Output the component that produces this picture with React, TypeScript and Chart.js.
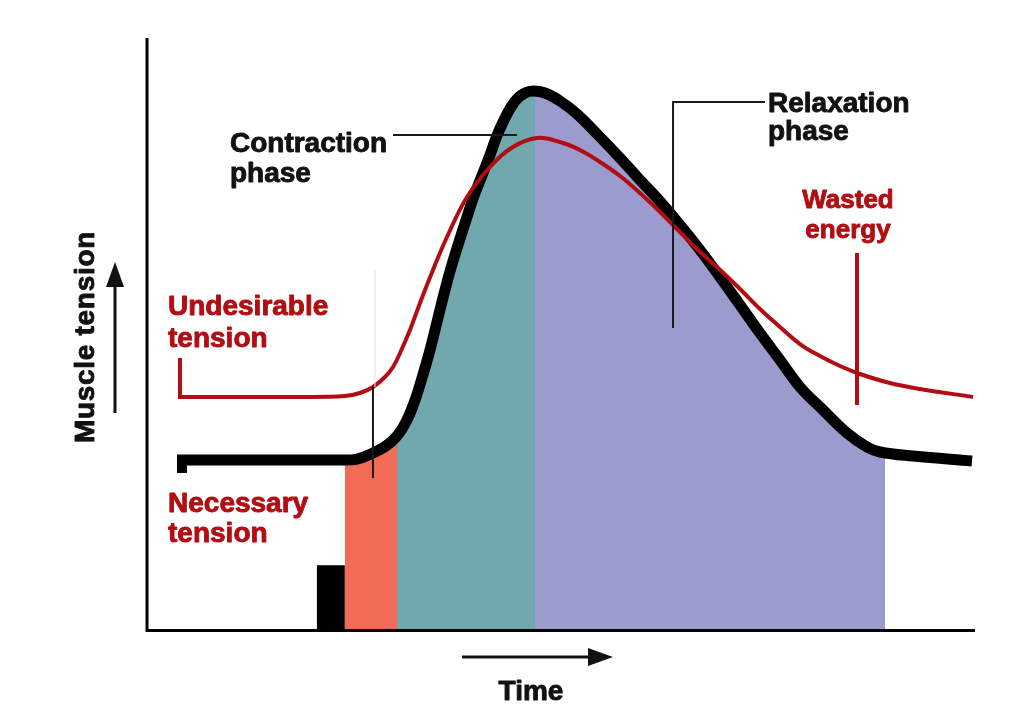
import React, { useEffect, useRef } from "react";
import { Chart, registerables } from "chart.js";

Chart.register(...registerables);

// ---- data (time and tension in arbitrary 0-100 units) ----
const blackTime = [
  3.62, 23.31, 25.36, 27.29, 28.86, 30.19, 31.28, 32.25, 33.21, 34.18, 35.14, 35.99, 36.71,
  37.56, 38.53, 39.49, 40.58, 41.43, 42.15, 43.0, 43.96, 44.81, 45.65, 46.62, 48.07, 49.88,
  51.93, 54.71, 57.13, 59.54, 61.59, 64.37, 66.79, 69.2, 71.62, 74.03, 76.45, 78.86, 81.64,
  84.54, 86.96, 88.53, 92.51, 99.64,
];
const blackTension = [
  28.6, 28.6, 28.76, 29.78, 30.96, 32.66, 35.03, 38.24, 42.47, 47.21, 52.62, 57.36, 61.08,
  64.97, 69.2, 73.27, 77.16, 80.2, 83.08, 85.79, 88.32, 89.85, 90.69, 91.03, 90.69, 89.34,
  87.14, 83.25, 79.7, 75.97, 72.93, 68.36, 64.13, 59.56, 54.82, 50.08, 45.52, 40.95, 37.06,
  33.16, 30.8, 29.95, 29.27, 28.43,
];
const redTime = [
  3.74, 18.48, 23.91, 25.72, 27.29, 28.74, 29.71, 30.56, 31.76, 32.97, 34.54, 36.23, 38.65,
  41.43, 44.2, 47.1, 49.88, 52.29, 54.71, 57.13, 59.54, 61.96, 64.37, 66.79, 68.84, 71.62,
  74.03, 76.45, 78.86, 81.28, 83.7, 86.11, 89.73, 93.36, 99.76,
];
const redTension = [
  39.26, 39.26, 39.42, 39.93, 40.95, 42.64, 44.33, 46.7, 50.59, 55.16, 60.74, 66.33, 73.1,
  78.17, 81.56, 83.08, 82.4, 81.05, 79.02, 76.65, 73.77, 70.56, 67.17, 63.79, 61.25, 57.53,
  54.15, 51.1, 48.22, 46.19, 44.5, 43.15, 41.62, 40.61, 39.26,
];
const phaseBounds = [23.9, 30.2, 46.9, 89.1];
const phaseColors = ["#F26B57", "#70A8AD", "#9B9BCD"];
const stimulusTime = [20.5, 23.9];
const stimulusTension = [10.8, 10.8];

const FONT = "'Liberation Sans', Arial, Helvetica, sans-serif";
const RED = "#B10D12";

const toPoints = (xs: number[], ys: number[]) => xs.map((x, i) => ({ x, y: ys[i] }));

const boldText = (ctx: CanvasRenderingContext2D, t: string, x: number, y: number) => {
  ctx.strokeStyle = ctx.fillStyle as string;
  ctx.lineWidth = 0.9;
  ctx.lineJoin = "round";
  ctx.strokeText(t, x, y);
  ctx.fillText(t, x, y);
};

const annotationPlugin = {
  id: "diagramAnnotations",
  afterDatasetsDraw(chart: any) {
    const { ctx, chartArea: ca, scales } = chart;
    const px = (v: number) => scales.x.getPixelForValue(v);
    const py = (v: number) => scales.y.getPixelForValue(v);
    ctx.save();

    // axes
    ctx.strokeStyle = "#000";
    ctx.lineWidth = 3;
    ctx.lineCap = "butt";
    ctx.beginPath();
    ctx.moveTo(ca.left, ca.top);
    ctx.lineTo(ca.left, ca.bottom + 1.5);
    ctx.lineTo(ca.right, ca.bottom + 1.5);
    ctx.stroke();

    // start tick of black curve
    ctx.fillStyle = "#000";
    ctx.fillRect(px(3.62), py(29.44), px(4.83) - px(3.62), py(26.4) - py(29.44));

    // red start tick (undesirable tension)
    ctx.strokeStyle = RED;
    ctx.lineWidth = 4;
    ctx.beginPath();
    ctx.moveTo(px(3.74) + 2, py(45.85));
    ctx.lineTo(px(3.74) + 2, py(39.26) + 2);
    ctx.stroke();

    // wasted energy leader
    ctx.beginPath();
    ctx.moveTo(px(85.75), py(63.62));
    ctx.lineTo(px(85.75), py(37.9));
    ctx.stroke();

    // contraction leader
    ctx.strokeStyle = "#1a1a1a";
    ctx.lineWidth = 2;
    ctx.beginPath();
    ctx.moveTo(px(29.71), py(83.59));
    ctx.lineTo(px(44.69), py(83.59));
    ctx.stroke();

    // relaxation leader
    ctx.beginPath();
    ctx.moveTo(px(74.64), py(89.17));
    ctx.lineTo(px(63.53), py(89.17));
    ctx.lineTo(px(63.53), py(50.93));
    ctx.stroke();

    // necessary tension leader
    ctx.beginPath();
    ctx.moveTo(px(27.29), py(40.95));
    ctx.lineTo(px(27.29), py(25.55));
    ctx.stroke();
    ctx.strokeStyle = "#e2e2e2";
    ctx.lineWidth = 1;
    ctx.beginPath();
    ctx.moveTo(px(27.29) + 2, py(60.74));
    ctx.lineTo(px(27.29) + 2, py(40.95));
    ctx.stroke();

    // texts
    ctx.font = `bold 28px ${FONT}`;
    (ctx as any).letterSpacing = "0px";
    ctx.textBaseline = "alphabetic";
    ctx.textAlign = "left";
    ctx.fillStyle = "#111";
    boldText(ctx, "Contraction", px(10.02), py(80.71));
    boldText(ctx, "phase", px(10.02), py(75.63));
    boldText(ctx, "Relaxation", px(75.0), py(87.48));
    boldText(ctx, "phase", px(75.0), py(82.74));
    ctx.fillStyle = RED;
    boldText(ctx, "Undesirable", px(2.54), py(53.13));
    boldText(ctx, "tension", px(2.54), py(47.72));
    boldText(ctx, "Necessary", px(2.54), py(19.8));
    boldText(ctx, "tension", px(2.54), py(14.72));
    ctx.textAlign = "center";
    ctx.font = `bold 26px ${FONT}`;
    boldText(ctx, "Wasted", px(84.66), py(71.24));
    boldText(ctx, "energy", px(84.66), py(66.16));

    // axis titles
    ctx.font = `bold 28px ${FONT}`;
    ctx.fillStyle = "#111";
    boldText(ctx, "Time", 531, 700);
    ctx.save();
    (ctx as any).letterSpacing = "0.7px";
    ctx.translate(94, 337);
    ctx.rotate(-Math.PI / 2);
    boldText(ctx, "Muscle tension", 0, 0);
    ctx.restore();

    // arrows
    ctx.strokeStyle = "#111";
    ctx.fillStyle = "#111";
    ctx.lineWidth = 3;
    ctx.beginPath();
    ctx.moveTo(462, 657);
    ctx.lineTo(592, 657);
    ctx.stroke();
    ctx.beginPath();
    ctx.moveTo(613, 657);
    ctx.lineTo(588, 648);
    ctx.lineTo(588, 666);
    ctx.closePath();
    ctx.fill();

    ctx.beginPath();
    ctx.moveTo(115, 413);
    ctx.lineTo(115, 282);
    ctx.stroke();
    ctx.beginPath();
    ctx.moveTo(115, 262);
    ctx.lineTo(106, 287);
    ctx.lineTo(124, 287);
    ctx.closePath();
    ctx.fill();

    ctx.restore();
  },
};

export default function App() {
  const canvasRef = useRef<HTMLCanvasElement | null>(null);

  useEffect(() => {
    const canvas = canvasRef.current;
    if (!canvas) return;

    const phaseFill = (context: any) => {
      const chart = context.chart;
      const ca = chart.chartArea;
      if (!ca) return "rgba(0,0,0,0)";
      const xs = chart.scales.x;
      const g = chart.ctx.createLinearGradient(ca.left, 0, ca.right, 0);
      const f = (v: number) =>
        Math.min(1, Math.max(0, (xs.getPixelForValue(v) - ca.left) / (ca.right - ca.left)));
      const clear = "rgba(255,255,255,0)";
      g.addColorStop(0, clear);
      g.addColorStop(f(phaseBounds[0]), clear);
      for (let i = 0; i < phaseColors.length; i++) {
        g.addColorStop(f(phaseBounds[i]), phaseColors[i]);
        g.addColorStop(f(phaseBounds[i + 1]), phaseColors[i]);
      }
      g.addColorStop(f(phaseBounds[phaseBounds.length - 1]), clear);
      g.addColorStop(1, clear);
      return g;
    };

    const chart = new Chart(canvas, {
      type: "line",
      data: {
        datasets: [
          {
            label: "Undesirable tension",
            data: toPoints(redTime, redTension),
            borderColor: RED,
            borderWidth: 4,
            pointRadius: 0,
            fill: false,
            tension: 0.4,
          },
          {
            label: "Necessary tension",
            data: toPoints(blackTime, blackTension),
            borderColor: "#000",
            borderWidth: 11,
            pointRadius: 0,
            fill: "origin",
            backgroundColor: phaseFill,
            tension: 0.4,
          },
          {
            label: "Stimulus",
            data: toPoints(stimulusTime, stimulusTension),
            borderColor: "#000",
            borderWidth: 0,
            pointRadius: 0,
            fill: "origin",
            backgroundColor: "#000",
            tension: 0,
          },
        ],
      },
      options: {
        animation: false,
        responsive: false,
        devicePixelRatio: 1,
        layout: { padding: { left: 147, right: 49, top: 38, bottom: 94 } },
        scales: {
          x: { type: "linear", min: 0, max: 100, display: false },
          y: { type: "linear", min: 0, max: 100, display: false },
        },
        plugins: {
          legend: { display: false },
          tooltip: { enabled: false },
        },
        elements: { line: { capBezierPoints: true, borderJoinStyle: "round" } },
      },
      plugins: [annotationPlugin],
    });

    return () => chart.destroy();
  }, []);

  return (
    <div style={{ position: "absolute", left: 0, top: 0, width: 1024, height: 723, background: "#fff" }}>
      <canvas ref={canvasRef} width={1024} height={723} style={{ display: "block" }} />
    </div>
  );
}
